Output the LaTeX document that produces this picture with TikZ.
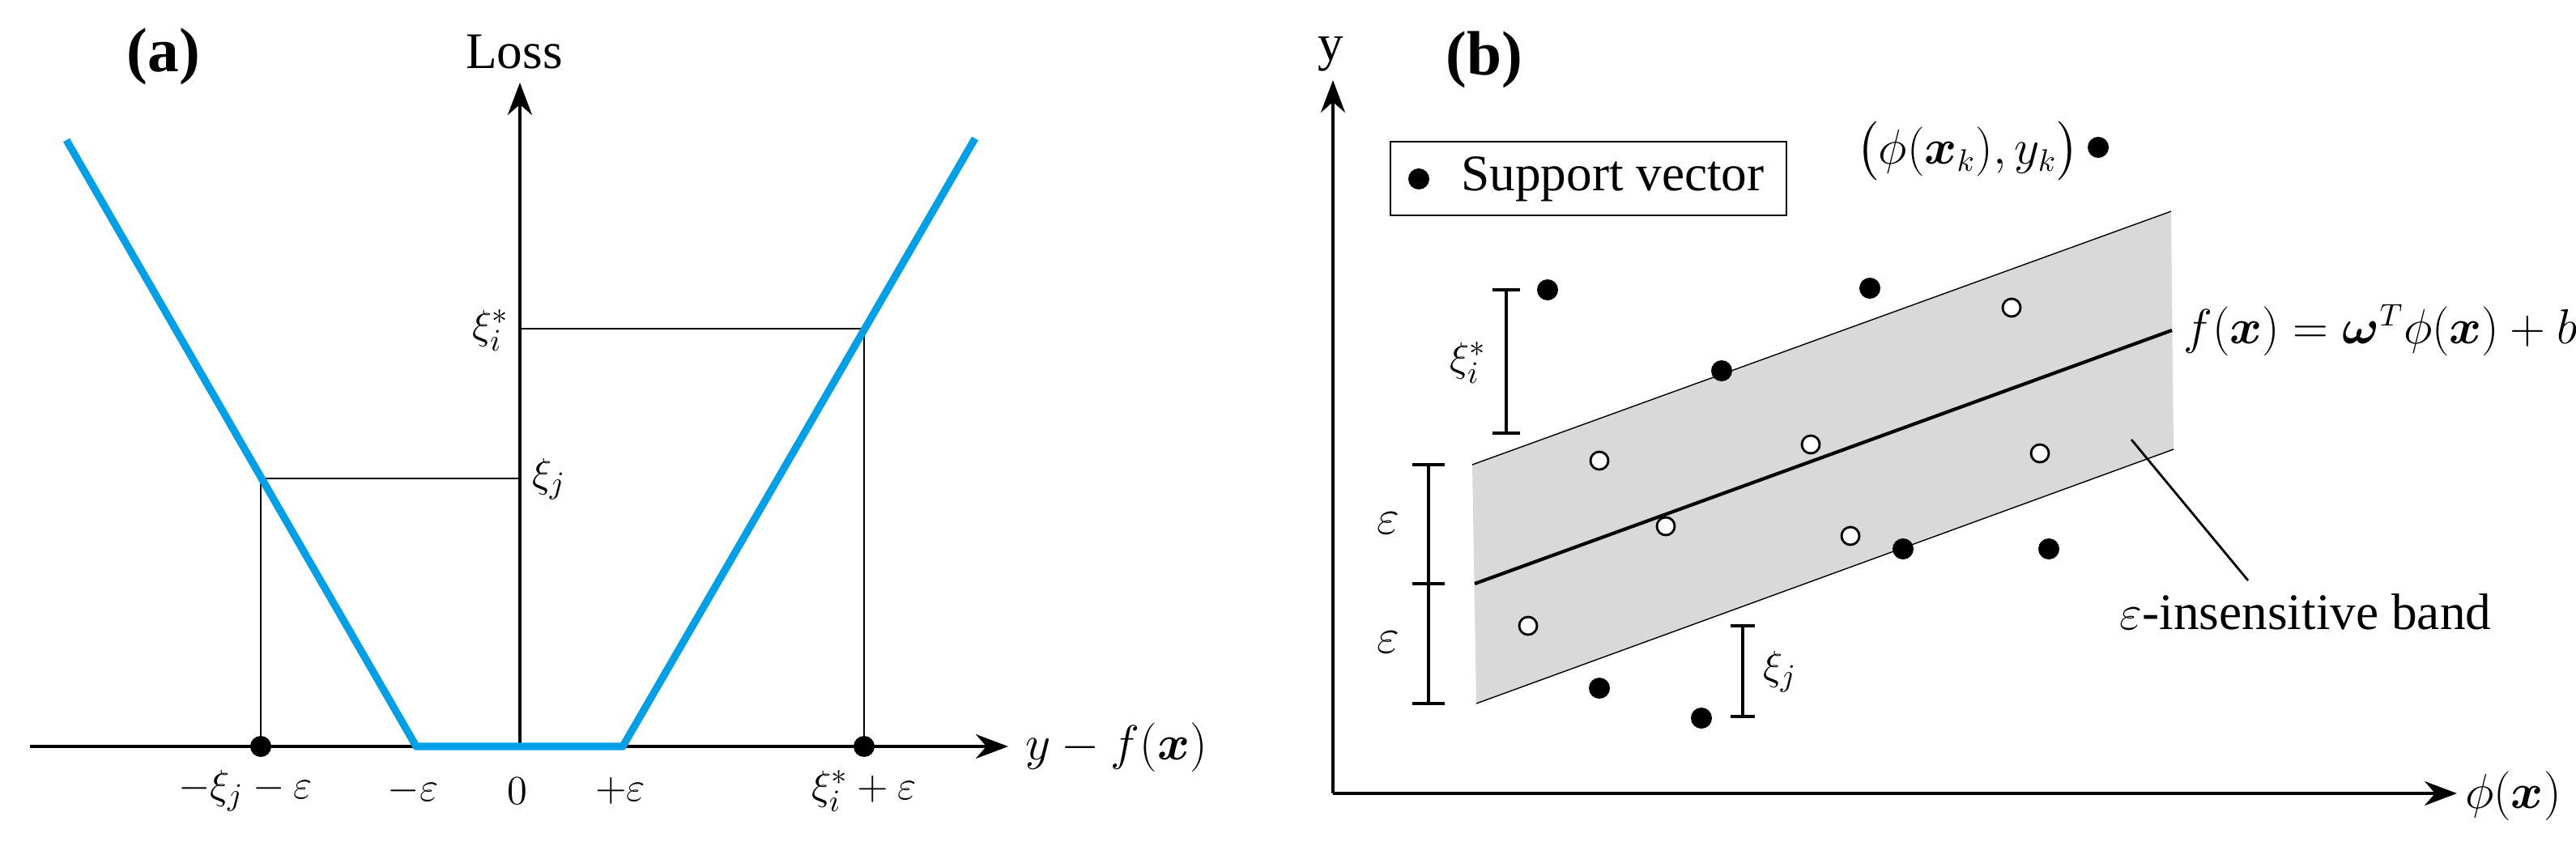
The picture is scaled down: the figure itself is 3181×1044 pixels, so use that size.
\documentclass[tikz,border=0pt]{standalone}
\usepackage{amsmath,bm}
\usepackage{fontspec}
\setmainfont{Liberation Serif}
\usetikzlibrary{arrows.meta}
\definecolor{lossblue}{RGB}{0,160,233}
\begin{document}
\begin{tikzpicture}[x=0.01cm,y=-0.01cm,
  axis/.style={line width=1.2pt,-{Stealth[length=4mm,width=3mm]}},
  thin/.style={line width=0.4pt},
  lbl/.style={font=\fontsize{15}{18}\selectfont, inner sep=1pt},
  big/.style={font=\fontsize{18}{21}\selectfont, inner sep=1pt},
  mid/.style={font=\fontsize{16}{19}\selectfont, inner sep=1pt},
  sv/.style={circle,fill=black,minimum size=0.26cm,inner sep=0pt},
  ov/.style={circle,draw=black,line width=0.8pt,fill=white,minimum size=0.22cm,inner sep=0pt},
  brk/.style={line width=1pt}]
\useasboundingbox (0,0) rectangle (3181,1044);
% ---------- panel (a)
\coordinate (xa0) at (37,922); \coordinate (xa1) at (1245,922);
\coordinate (la0) at (642,922); \coordinate (la1) at (642,102);
\draw[thin] (322,591) -- (642,591);
\draw[thin] (322,591) -- (322,922);
\draw[thin] (642,406) -- (1067,406) -- (1067,922);
\draw[axis] (xa0) -- (xa1);
\draw[axis] (la0) -- (la1);
\draw[lossblue,line width=2.6pt,line join=round] (82,173) -- (514,922) -- (769,922) -- (1204,171);
\node[sv] (d1) at (322,922) {};
\node[sv] (d2) at (1067,922) {};
\node[font=\bfseries\fontsize{22}{26}\selectfont] (ta) at (202,70) {(a)};
\node[big] (loss) at (635,64) {Loss};
\node[big,anchor=west] (yfx) at (1262,923) {$y-f(\bm{x})$};
\node[lbl] (t1) at (303,977) {$-\xi_j-\varepsilon$};
\node[lbl] (t2) at (510,977) {$-\varepsilon$};
\node[lbl] (t3) at (639,977) {$0$};
\node[lbl] (t4) at (766,977) {$+\varepsilon$};
\node[lbl] (t5) at (1067,977) {$\xi_i^*+\varepsilon$};
\node[lbl] (t6) at (606,408) {$\xi_i^*$};
\node[lbl] (t7) at (678,592) {$\xi_j$};
% ---------- panel (b)
\fill[black!15] (1818,574) -- (2681,261) -- (2684,555) -- (1823,869) -- cycle;
\draw[thin] (1818,574) -- (2681,261);
\draw[thin] (1823,869) -- (2684,555);
\draw[line width=1.2pt] (1821,721) -- (2682,408);
\draw[axis] (1646,980) -- (1646,99);
\draw[axis] (1646,980) -- (3034,980);
\node[big] (yb) at (1643,67) {y};
\node[font=\bfseries\fontsize{22}{26}\selectfont] (tb) at (1833,74) {(b)};
\node[big,anchor=west] (phix) at (3040,983) {$\phi(\bm{x})$};
\draw[thin] (1717,175) rectangle (2206,266);
\node[sv] (lg) at (1752,221) {};
\node[big,anchor=west] (lgt) at (1800,221) {Support vector};
\node[mid,anchor=east] (pk) at (2572,187) {$\bigl(\phi(\bm{x}_k),y_k\bigr)$};
\node[mid,anchor=west] (fx) at (2692,408) {$f(\bm{x})=\bm{\omega}^T\phi(\bm{x})+b$};
% brackets
\draw[brk] (1843,358) -- (1877,358) (1860,358) -- (1860,535) (1843,535) -- (1877,535);
\node[lbl] (xis) at (1813,448) {$\xi_i^*$};
\draw[brk] (1744,574) -- (1784,574) (1764,574) -- (1764,869) (1744,721) -- (1784,721) (1744,869) -- (1784,869);
\node[big] (e1) at (1714,646) {$\varepsilon$};
\node[big] (e2) at (1714,793) {$\varepsilon$};
\draw[brk] (2137,773) -- (2167,773) (2152,773) -- (2152,885) (2137,885) -- (2167,885);
\node[lbl] (xj) at (2198,830) {$\xi_j$};
\coordinate (pa) at (2632,543); \coordinate (pb) at (2776,717);
\draw[line width=0.8pt] (pa) -- (pb);
\node[big] (band) at (2847,756) {$\varepsilon$-insensitive band};
% points
\node[sv] at (2591,182) {};
\node[sv] at (1911,358) {};
\node[sv] at (2309,356) {};
\node[sv] at (2126,458) {};
\node[sv] at (2350,678) {};
\node[sv] at (2530,678) {};
\node[sv] at (1975,850) {};
\node[sv] at (2101,887) {};
\node[ov] at (2484,380) {};
\node[ov] at (2236,549) {};
\node[ov] at (1975,569) {};
\node[ov] at (2519,560) {};
\node[ov] at (2057,650) {};
\node[ov] at (2285,662) {};
\node[ov] at (1887,773) {};
\end{tikzpicture}
\end{document}
